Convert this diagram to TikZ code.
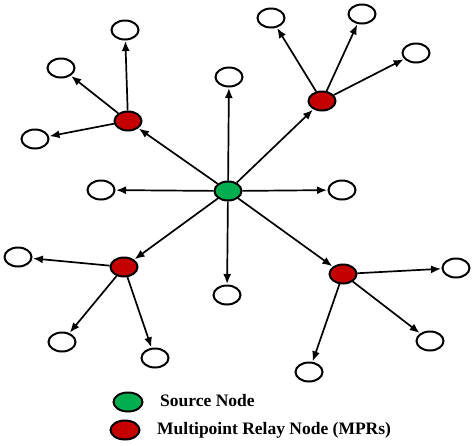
\documentclass[tikz,border=0pt]{standalone}
\usepackage{fontspec}
\setmainfont{Liberation Serif}
\usetikzlibrary{shapes.geometric,arrows.meta}
\definecolor{srcgreen}{RGB}{0,174,80}
\definecolor{mprred}{RGB}{196,0,0}
\tikzset{
	nd/.style={ellipse,draw,line width=2pt,minimum width=27pt,minimum height=19pt,inner sep=0pt},
	srcnd/.style={nd,fill=srcgreen},
	mprnd/.style={nd,fill=mprred},
	arr/.style={-{Latex[length=10pt,width=8pt]},line width=1.7pt,shorten >=0.5pt},
	legtext/.style={anchor=base west,inner sep=0pt,font=\bfseries\fontsize{17.5}{17.5}\selectfont}
}

\begin{document}
\begin{tikzpicture}[x=1pt,y=-1pt]
	\useasboundingbox (0,0) rectangle (474,445);
	\node[srcnd] (s) at (228,191) {};
	\node[mprnd] (m1) at (128,121) {};
	\node[mprnd] (m2) at (322,101) {};
	\node[mprnd] (m3) at (124,267) {};
	\node[mprnd] (m4) at (343,274) {};
	\foreach \n/\x/\y in {sl/101/190,st/229/77,sr/342/190,sb/227/295,
		a1/125/30,a2/61/68,a3/35/139,
		b1/271/18,b2/362/14,b3/416/53,
		c1/18/257,c2/62/342,c3/155/358,
		d1/456/268,d2/430/341,d3/309/372}{
		\node[nd] (\n) at (\x,\y) {};
	}
	\foreach \a/\b in {s/m1,s/m2,s/m3,s/m4,s/sl,s/st,s/sr,s/sb,
		m1/a1,m1/a2,m1/a3,m2/b1,m2/b2,m2/b3,
		m3/c1,m3/c2,m3/c3,m4/d1,m4/d2,m4/d3}{
		\draw[arr] (\a) -- (\b);
	}
	\node[srcnd,minimum width=29pt] (lsrc) at (128,402) {};
	\node[mprnd,minimum width=29pt] (lmpr) at (125,430) {};
	\node[legtext] (tsrc) at (160,406) {Source Node};
	\node[legtext] (tmpr) at (157,434) {Multipoint Relay Node (MPRs)};
\end{tikzpicture}
\end{document}
